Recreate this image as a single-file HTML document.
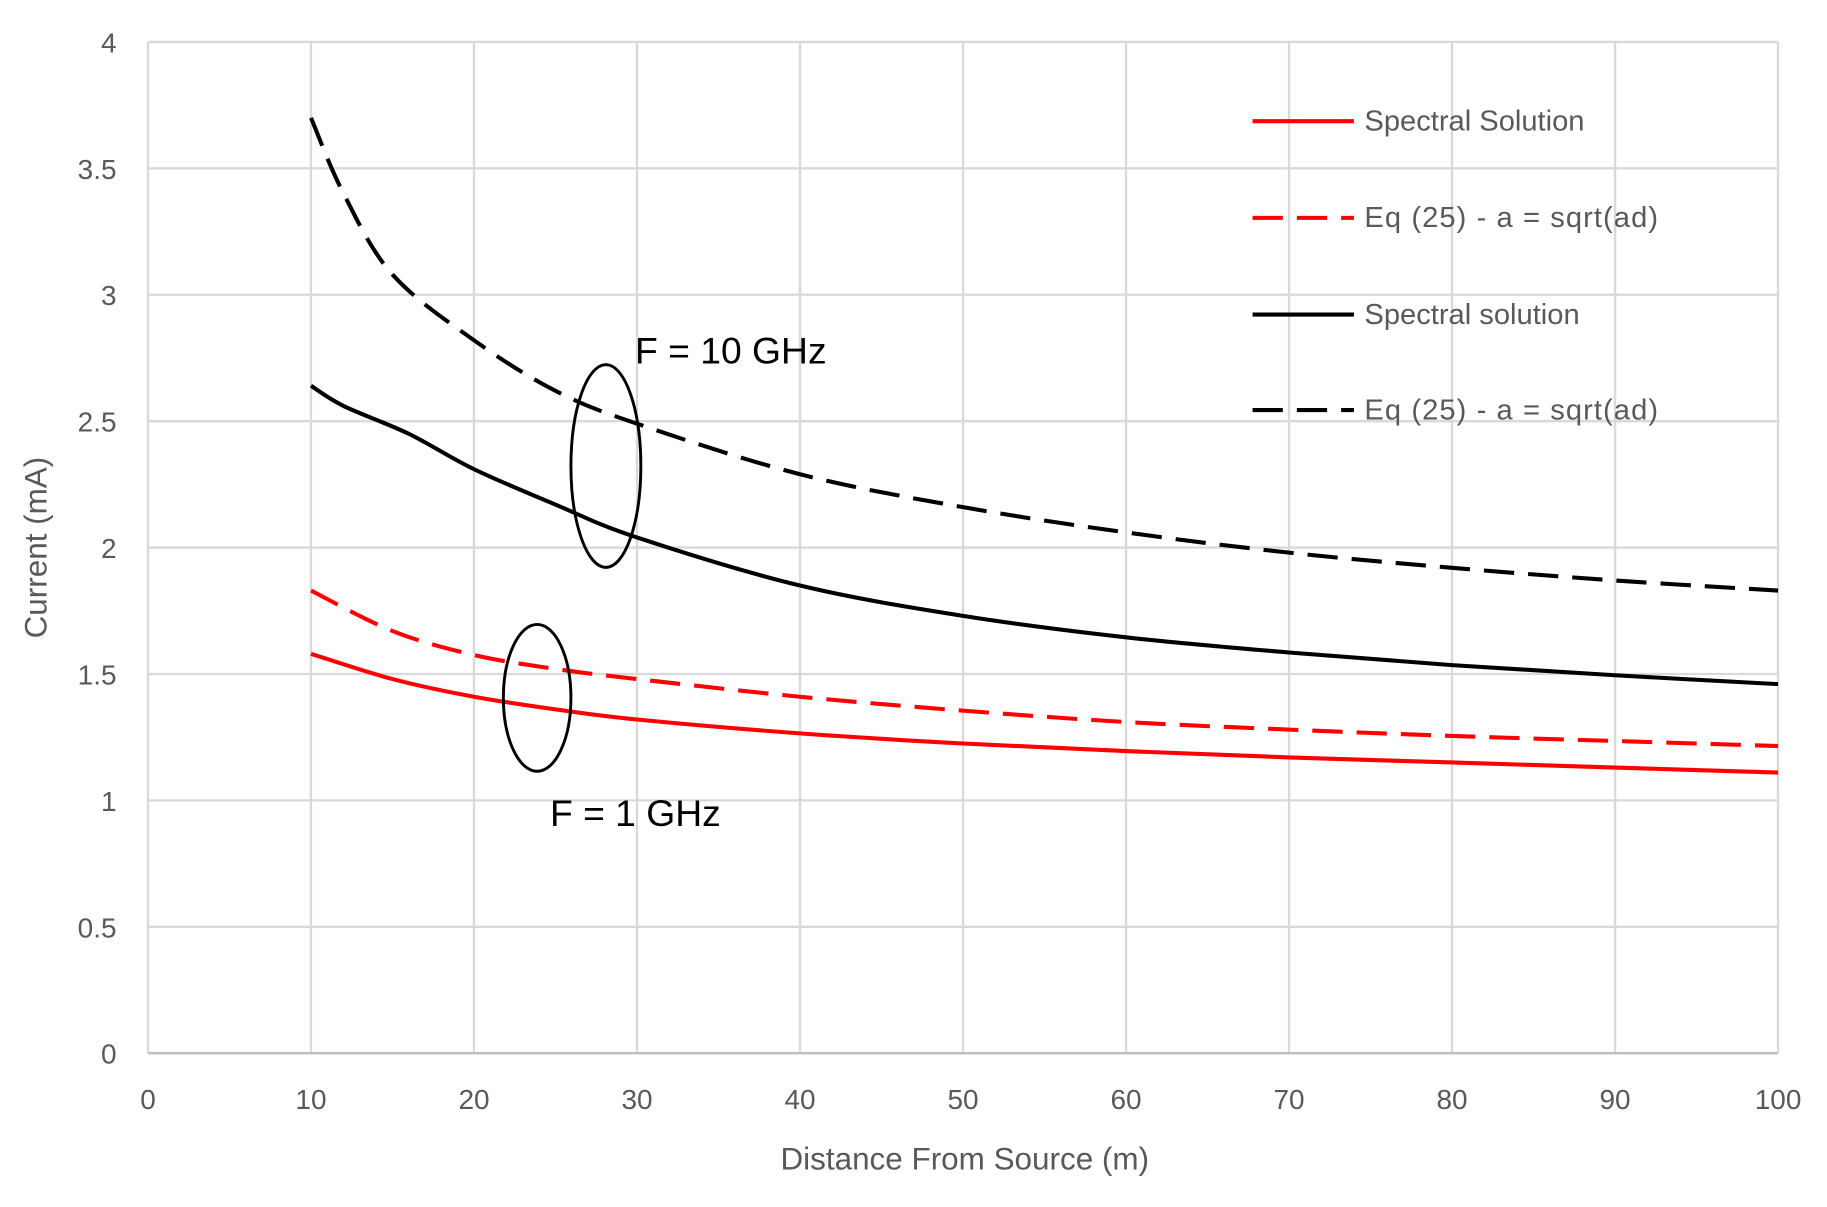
<!DOCTYPE html>
<html><head><meta charset="utf-8"><style>
html,body{margin:0;padding:0;background:#fff;}
svg{display:block;}
text{font-family:"Liberation Sans",sans-serif;}
</style></head><body>
<svg id="s" width="1827" height="1207" viewBox="0 0 1568 1036" preserveAspectRatio="none" xmlns="http://www.w3.org/2000/svg">
<rect width="1568" height="1036" fill="#fff"/>
<g id="grid" stroke="#d9d9d9" stroke-width="2"></g>
<g id="ticks" fill="#595959" font-size="24"></g>
<g id="series" fill="none" stroke-width="3.5"></g>
<ellipse cx="461" cy="599" rx="29" ry="63" fill="none" stroke="#000" stroke-width="2.5"/>
<ellipse cx="520" cy="400" rx="30" ry="87" fill="none" stroke="#000" stroke-width="2.5"/>
<text x="545" y="312" font-size="32" fill="#000">F = 10 GHz</text>
<text x="472" y="709" font-size="32" fill="#000">F = 1 GHz</text>
<g font-size="25" fill="#595959">
<line x1="1075" y1="104" x2="1162" y2="104" stroke="#f00" stroke-width="3.5"/>
<text x="1171" y="112">Spectral Solution</text>
<line x1="1075" y1="187" x2="1162" y2="187" stroke="#f00" stroke-width="3.5" stroke-dasharray="26,12"/>
<text x="1171" y="195" textLength="252">Eq (25) - a = sqrt(ad)</text>
<line x1="1075" y1="270" x2="1162" y2="270" stroke="#000" stroke-width="3.5"/>
<text x="1171" y="278">Spectral solution</text>
<line x1="1075" y1="352" x2="1162" y2="352" stroke="#000" stroke-width="3.5" stroke-dasharray="26,12"/>
<text x="1171" y="360" textLength="252">Eq (25) - a = sqrt(ad)</text>
</g>
<text x="828" y="1004" font-size="27" fill="#595959" text-anchor="middle">Distance From Source (m)</text>
<text transform="translate(40,470) rotate(-90)" font-size="27" fill="#595959" text-anchor="middle">Current (mA)</text>
</svg>
<script>
const X=x=>127+x*13.99, Y=y=>904-y*217;
const ns="http://www.w3.org/2000/svg";
function el(p,t,a,txt){const e=document.createElementNS(ns,t);for(const k in a)e.setAttribute(k,a[k]);if(txt!==undefined)e.textContent=txt;document.getElementById(p).appendChild(e);}
for(let i=0;i<=10;i++){el("grid","line",{x1:X(i*10),y1:Y(0),x2:X(i*10),y2:Y(4)});el("ticks","text",{x:X(i*10),y:952,"text-anchor":"middle"},String(i*10));}
for(let j=0;j<=8;j++){el("grid","line",{x1:X(0),y1:Y(j/2),x2:X(100),y2:Y(j/2)});el("ticks","text",{x:100,y:Y(j/2)+9,"text-anchor":"end"},String(j/2));}
el("grid","line",{x1:X(0),y1:Y(0),x2:X(100),y2:Y(0),stroke:"#bfbfbf"});
const S=[
 [[[10,3.7],[12,3.4],[15,3.08],[20,2.82],[25,2.62],[30,2.49],[40,2.29],[50,2.16],[60,2.06],[70,1.98],[80,1.92],[90,1.87],[100,1.83]],"#000",true],
 [[[10,2.64],[12,2.56],[16,2.45],[20,2.31],[25,2.17],[30,2.04],[40,1.85],[50,1.73],[60,1.645],[70,1.585],[80,1.535],[90,1.495],[100,1.46]],"#000",false],
 [[[10,1.83],[15,1.67],[20,1.575],[25,1.52],[30,1.48],[40,1.41],[50,1.355],[60,1.31],[70,1.28],[80,1.255],[90,1.235],[100,1.215]],"#f00",true],
 [[[10,1.58],[15,1.48],[20,1.41],[25,1.36],[30,1.32],[40,1.265],[50,1.225],[60,1.195],[70,1.17],[80,1.15],[90,1.13],[100,1.11]],"#f00",false]];
for(const [pts,c,d] of S){
 const P=pts.map(q=>[X(q[0]),Y(q[1])]);
 let p="M"+P[0][0]+","+P[0][1];
 for(let i=0;i<P.length-1;i++){
  const p0=P[Math.max(i-1,0)],p1=P[i],p2=P[i+1],p3=P[Math.min(i+2,P.length-1)];
  const c1=[p1[0]+(p2[0]-p0[0])/6,p1[1]+(p2[1]-p0[1])/6];
  const c2=[p2[0]-(p3[0]-p1[0])/6,p2[1]-(p3[1]-p1[1])/6];
  p+=` C${c1[0]},${c1[1]} ${c2[0]},${c2[1]} ${p2[0]},${p2[1]}`;
 }
 const a={d:p,stroke:c,"stroke-linejoin":"round"}; if(d)a["stroke-dasharray"]="26,12";
 el("series","path",a);
}
</script>
</body></html>
